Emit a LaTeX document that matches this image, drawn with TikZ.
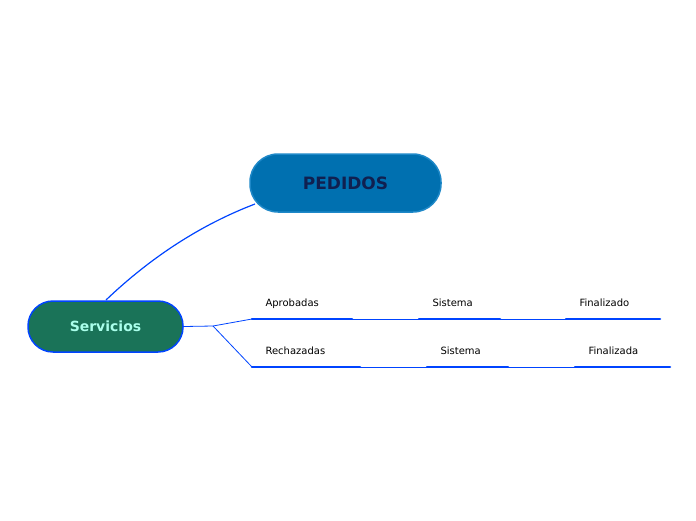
\documentclass[tikz,border=0pt]{standalone}
\usepackage{fontspec}
\setmainfont{DejaVu Sans}
\begin{document}
\begin{tikzpicture}[x=1pt,y=-1pt]
\definecolor{bl}{HTML}{0044FF}
\tikzset{under/.style={draw=bl,line width=2.5pt,line cap=round},
 thin/.style={draw=bl,line width=0.8pt},
 lab/.style={font=\fontsize{10}{12}\selectfont,anchor=base west}}
\useasboundingbox (0,0) rectangle (696,520);
\node[draw={rgb,255:red,30;green,136;blue,200},line width=1.5pt,fill={rgb,255:red,0;green,112;blue,176},rounded corners=28pt,minimum width=191pt,minimum height=58pt,text={rgb,255:red,16;green,32;blue,80},font=\bfseries\fontsize{17}{20}\selectfont] (p) at (345.5,183) {PEDIDOS};
\node[draw=bl,line width=1.5pt,fill={rgb,255:red,26;green,115;blue,88},rounded corners=25pt,minimum width=155pt,minimum height=51pt,text={rgb,255:red,170;green,255;blue,235},font=\bfseries\fontsize{14}{17}\selectfont] (s) at (105.5,326.5) {Servicios};
\draw[thin,line width=1.2pt] (106,300) .. controls (150,258) and (200,225) .. (255,204);
\coordinate (j) at (213,326);
\draw[thin] (s.east) -- (j);
\coordinate (a1) at (252,319); \coordinate (a2) at (352,319);
\coordinate (b1) at (419,319); \coordinate (b2) at (500,319);
\coordinate (c1) at (566,319); \coordinate (c2) at (660,319);
\coordinate (r1) at (252,367); \coordinate (r2) at (360,367);
\coordinate (d1) at (427,367); \coordinate (d2) at (508,367);
\coordinate (e1) at (575,367); \coordinate (e2) at (670,367);
\draw[thin] (j) -- (a1); \draw[thin] (j) -- (r1);
\draw[thin] (a2) -- (b1); \draw[thin] (b2) -- (c1);
\draw[thin] (r2) -- (d1); \draw[thin] (d2) -- (e1);
\foreach \u/\v in {a1/a2,b1/b2,c1/c2,r1/r2,d1/d2,e1/e2} \draw[under] (\u) -- (\v);
\node[lab] (ta) at (262,306) {Aprobadas};
\node[lab] (tb) at (429,306) {Sistema};
\node[lab] (tc) at (576,306) {Finalizado};
\node[lab] (tr) at (262,354) {Rechazadas};
\node[lab] (td) at (437,354) {Sistema};
\node[lab] (te) at (585,354) {Finalizada};
\end{tikzpicture}
\end{document}
